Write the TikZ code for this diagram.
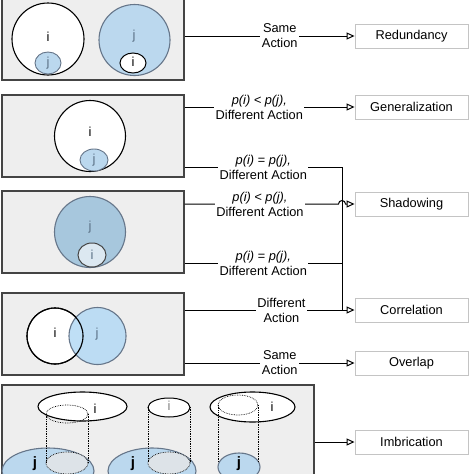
\documentclass[tikz,border=0pt]{standalone}
\usepackage{fontspec}
\setmainfont{Liberation Sans}
\usepackage{xcolor}
\usepackage{tikz}
\usetikzlibrary{positioning,arrows.meta,calc}
\definecolor{panelfill}{HTML}{EEEEEE}
\definecolor{panelrule}{HTML}{444444}
\definecolor{boxrule}{HTML}{C4C4C4}
\definecolor{setblue}{HTML}{BBD8EE}
\definecolor{setbright}{HTML}{B4DAF5}
\definecolor{setdeep}{HTML}{A7C7DD}
\definecolor{setpale}{HTML}{DCE8F1}
\definecolor{setrule}{HTML}{66768A}
\definecolor{holefill}{HTML}{DDE3E8}
\definecolor{jtext}{HTML}{5B7186}

\begin{document}
\begin{tikzpicture}[x=1pt,y=-1pt,
  panel/.style={draw=panelrule, fill=panelfill, line width=1.1pt, inner sep=0pt},
  result/.style={draw=boxrule, fill=white, line width=0.9pt, minimum width=113pt,
                 minimum height=24pt, font=\fontsize{12.8}{15}\selectfont},
  cond/.style={fill=white, align=center, inner sep=1.5pt, font=\fontsize{12.8}{15}\selectfont},
  flow/.style={line width=1pt, -{Triangle[open,length=8pt,width=7pt]}},
  wire/.style={line width=1pt},
  setname/.style={inner sep=0pt, font=\fontsize{13}{15}\selectfont},
  bigname/.style={inner sep=0pt, font=\fontsize{15}{17}\selectfont\bfseries},
  hole/.style={densely dotted, line width=0.7pt}]
  \useasboundingbox (0,0) rectangle (474,474);
  \clip (0,0) rectangle (474,474);

  \node[panel, minimum width=182pt, minimum height=84pt] (pRed) at (93,38) {};
  \node[panel, minimum width=182pt, minimum height=82pt] (pGen) at (93,136) {};
  \node[panel, minimum width=182pt, minimum height=82pt] (pSha) at (93,232) {};
  \node[panel, minimum width=182pt, minimum height=82pt] (pCor) at (93,334) {};
  \node[panel, minimum width=312pt, minimum height=110pt] (pImb) at (158,440) {};

  \node[result] (rRed) at (411.5,36) {Redundancy};
  \node[result] (rGen) at (411.5,107) {Generalization};
  \node[result] (rSha) at (411.5,204) {Shadowing};
  \node[result] (rCor) at (411.5,310) {Correlation};
  \node[result] (rOvl) at (411.5,363) {Overlap};
  \node[result] (rImb) at (411.5,442) {Imbrication};

  % redundancy
  \draw[line width=1.1pt, fill=white] (48,39) circle[radius=36];
  \draw[line width=0.9pt, draw=setrule, fill=setblue] (48,63) ellipse[x radius=13, y radius=11];
  \node[setname] (i1) at (48,37) {i};
  \node[setname, text=jtext] (j1) at (48,63) {j};
  \draw[line width=1.1pt, draw=setrule, fill=setblue] (134.5,40) circle[radius=35.5];
  \draw[line width=1pt, fill=white] (133,63) ellipse[x radius=13, y radius=10];
  \node[setname, text=jtext] (j2) at (134,36) {j};
  \node[setname] (i2) at (133,62) {i};

  % generalization
  \draw[line width=1.1pt, fill=white] (90,136) circle[radius=35.5];
  \draw[line width=0.9pt, draw=setrule, fill=setblue] (94,160) ellipse[x radius=14, y radius=11];
  \node[setname] (i3) at (90,132) {i};
  \node[setname, text=jtext] (j3) at (94,160) {j};

  % shadowing
  \draw[line width=1.1pt, draw=setrule, fill=setdeep] (90,232) circle[radius=35.5];
  \draw[line width=1pt, draw=panelrule, fill=setpale] (92,255) ellipse[x radius=14, y radius=12];
  \node[setname, text=jtext] (j4) at (90,227) {j};
  \node[setname, text=jtext] (i4) at (92,255) {i};

  % correlation / overlap
  \draw[line width=1.1pt, fill=white] (55,336) circle[radius=28];
  \draw[line width=1.1pt, draw=setrule, fill=setbright, fill opacity=0.85] (97.5,336) circle[radius=28.5];
  \draw[line width=1.1pt] (55,336) circle[radius=28];
  \node[setname] (i5) at (55,333) {i};
  \node[setname, text=jtext] (j5) at (97,334) {j};

  % imbrication
  \draw[line width=1.1pt, draw=setrule, fill=setblue] (48,471) ellipse[x radius=46, y radius=23];
  \draw[line width=1.1pt, draw=setrule, fill=setblue] (152,471) ellipse[x radius=44, y radius=23];
  \draw[line width=1.1pt, draw=setrule, fill=setblue] (239,467) ellipse[x radius=21, y radius=14];
  \draw[hole, fill=holefill] (67,463) ellipse[x radius=21, y radius=11];
  \draw[hole, fill=holefill] (169,463) ellipse[x radius=21, y radius=11];
  \draw[line width=1.1pt, fill=white] (82.5,406.5) ellipse[x radius=44.5, y radius=14.5];
  \draw[hole] (67,414) ellipse[x radius=21, y radius=9];
  \draw[line width=1pt, fill=white] (169,407.5) ellipse[x radius=21, y radius=9.5];
  \draw[line width=1.1pt, fill=white] (252.5,407) ellipse[x radius=42.5, y radius=15];
  \draw[hole] (238,405) ellipse[x radius=20, y radius=10];
  \foreach \xa/\ya/\yb in {46/414/463, 88/414/463, 148/407/463, 190/407/463, 218/405/462, 258/405/462}
    \draw[hole] (\xa,\ya) -- (\xa,\yb);
  \node[setname] (i6) at (95,409) {i};
  \node[setname, text=gray] (i7) at (169,406) {i};
  \node[setname] (i8) at (272,407) {i};
  \node[bigname] (j6) at (35,464) {j};
  \node[bigname] (j7) at (133,464) {j};
  \node[bigname] (j8) at (239,464) {j};

  \coordinate (gLo) at ([yshift=-31pt]pGen.east);
  \coordinate (sUp) at ([yshift=28pt]pSha.east);
  \coordinate (sLo) at ([yshift=-31pt]pSha.east);
  \coordinate (jn) at (342,167);

  \draw[flow] (pRed.east |- rRed) -- node[cond, pos=0.56] {Same\\Action} (rRed);
  \draw[flow] (pGen.east |- rGen) -- node[cond, pos=0.44] {\textit{p(i) < p(j),}\\Different Action} (rGen);
  \draw[wire] (gLo) -- node[cond] {\textit{p(i) = p(j),}\\Different Action} (jn) -- (jn |- rCor);
  \draw[wire] (sLo) -- node[cond] {\textit{p(i) = p(j),}\\Different Action} (sLo -| jn);
  \draw[flow] (sUp) -- node[cond, pos=0.49] {\textit{p(i) < p(j),}\\Different Action}
    ($(jn |- rSha)+(-3.5,0)$) arc[start angle=180, end angle=0, radius=3.5pt] -- (rSha);
  \draw[flow] (pCor.east |- rCor) -- node[cond, pos=0.57] {Different\\Action} (rCor);
  \draw[flow] (pCor.east |- rOvl) -- node[cond, pos=0.56] {Same\\Action} (rOvl);
  \draw[flow] (pImb.east |- rImb) -- (rImb);
\end{tikzpicture}
\end{document}
